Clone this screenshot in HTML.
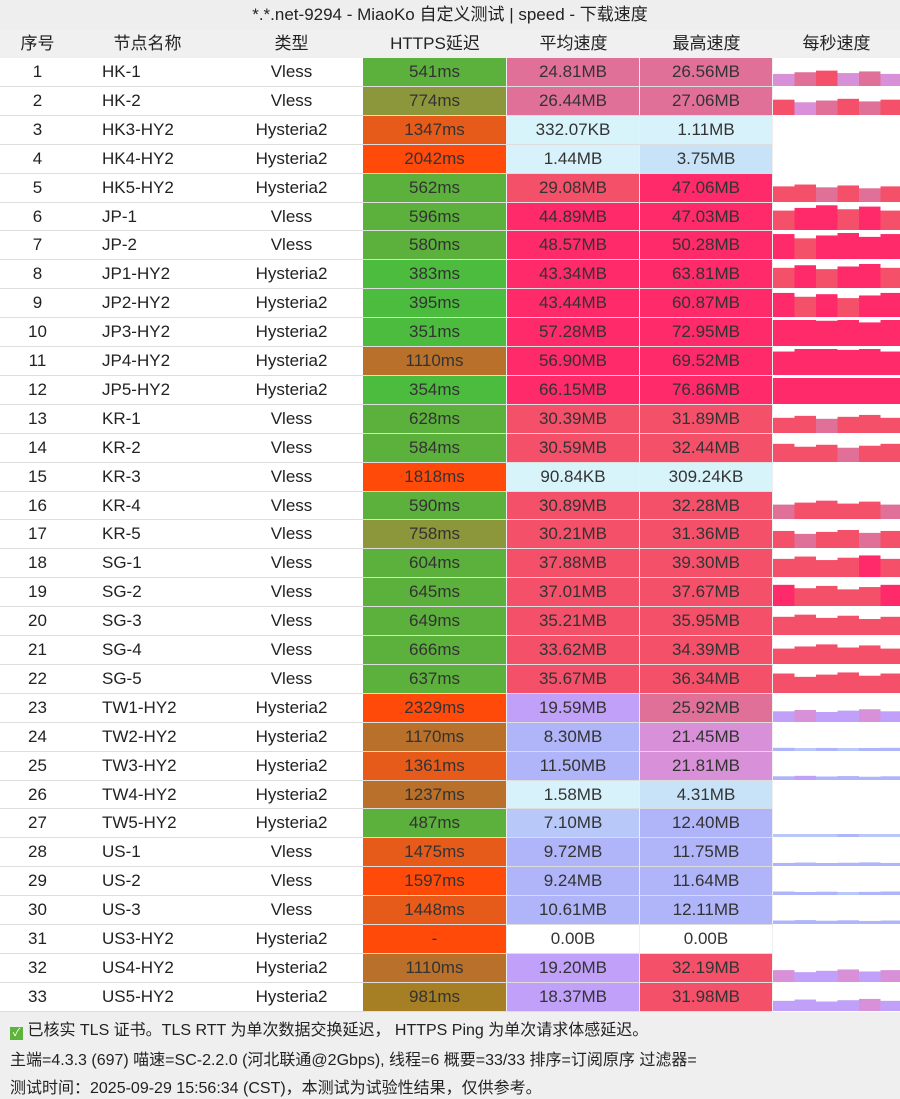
<!DOCTYPE html><html><head><meta charset="utf-8"><style>
body{margin:0;width:900px;height:1099px;background:#fff;font-family:"Liberation Sans","Noto Sans CJK SC",sans-serif;overflow:hidden;position:relative;color:#222}
.t{position:absolute;left:0;top:0;width:900px;height:29px;background:#eeeeee;text-align:center;line-height:29px;font-size:17px}
.h{position:absolute;top:29px;height:29px;line-height:29px;font-size:17px;text-align:center;background:#f0f0f0}
.c{position:absolute;line-height:28px;font-size:17px;text-align:center;border-bottom:1px solid #ddd;box-sizing:border-box}
.f{position:absolute;left:0;top:1012px;width:900px;height:87px;background:#efefef;font-size:16px}
.f div{position:absolute;left:10px}
</style></head><body>
<div class="t">*.*.net-9294 - MiaoKo 自定义测试 | speed - 下载速度</div>
<div id="g"></div>
<div class="f">
<div style="top:4px"><span style="display:inline-block;width:13px;height:13px;background:#5cb53a;color:#fff;font-size:11px;line-height:13px;text-align:center;vertical-align:-1px">✓</span> 已核实 TLS 证书。TLS RTT 为单次数据交换延迟， HTTPS Ping 为单次请求体感延迟。</div>
<div style="top:34px">主端=4.3.3 (697) 喵速=SC-2.2.0 (河北联通@2Gbps), 线程=6 概要=33/33 排序=订阅原序 过滤器=</div>
<div style="top:62px">测试时间：2025-09-29 15:56:34 (CST)，本测试为试验性结果，仅供参考。</div>
</div>
<script>
var cols=[[0,75],[75,145],[220,143],[363,144],[507,133],[640,133],[773,127]];
var hd=["序号","节点名称","类型","HTTPS延迟","平均速度","最高速度","每秒速度"];
var g=document.getElementById('g'),s='';
hd.forEach(function(h,i){s+='<div class="h" style="left:'+cols[i][0]+'px;width:'+cols[i][1]+'px">'+h+'</div>'});
var D=[["HK-1","Vless","541ms","24.81MB","26.56MB"],["HK-2","Vless","774ms","26.44MB","27.06MB"],["HK3-HY2","Hysteria2","1347ms","332.07KB","1.11MB"],["HK4-HY2","Hysteria2","2042ms","1.44MB","3.75MB"],["HK5-HY2","Hysteria2","562ms","29.08MB","47.06MB"],["JP-1","Vless","596ms","44.89MB","47.03MB"],["JP-2","Vless","580ms","48.57MB","50.28MB"],["JP1-HY2","Hysteria2","383ms","43.34MB","63.81MB"],["JP2-HY2","Hysteria2","395ms","43.44MB","60.87MB"],["JP3-HY2","Hysteria2","351ms","57.28MB","72.95MB"],["JP4-HY2","Hysteria2","1110ms","56.90MB","69.52MB"],["JP5-HY2","Hysteria2","354ms","66.15MB","76.86MB"],["KR-1","Vless","628ms","30.39MB","31.89MB"],["KR-2","Vless","584ms","30.59MB","32.44MB"],["KR-3","Vless","1818ms","90.84KB","309.24KB"],["KR-4","Vless","590ms","30.89MB","32.28MB"],["KR-5","Vless","758ms","30.21MB","31.36MB"],["SG-1","Vless","604ms","37.88MB","39.30MB"],["SG-2","Vless","645ms","37.01MB","37.67MB"],["SG-3","Vless","649ms","35.21MB","35.95MB"],["SG-4","Vless","666ms","33.62MB","34.39MB"],["SG-5","Vless","637ms","35.67MB","36.34MB"],["TW1-HY2","Hysteria2","2329ms","19.59MB","25.92MB"],["TW2-HY2","Hysteria2","1170ms","8.30MB","21.45MB"],["TW3-HY2","Hysteria2","1361ms","11.50MB","21.81MB"],["TW4-HY2","Hysteria2","1237ms","1.58MB","4.31MB"],["TW5-HY2","Hysteria2","487ms","7.10MB","12.40MB"],["US-1","Vless","1475ms","9.72MB","11.75MB"],["US-2","Vless","1597ms","9.24MB","11.64MB"],["US-3","Vless","1448ms","10.61MB","12.11MB"],["US3-HY2","Hysteria2","-","0.00B","0.00B"],["US4-HY2","Hysteria2","1110ms","19.20MB","32.19MB"],["US5-HY2","Hysteria2","981ms","18.37MB","31.98MB"]];
function lat(v){v=parseInt(v);if(isNaN(v))return'#ff4a0a';if(v<450)return'#4cbc3e';if(v<700)return'#5cb03c';if(v<800)return'#8c963a';if(v<1050)return'#a67e24';if(v<1300)return'#b8702a';if(v<1500)return'#e65a1a';return'#ff4a0a'}
function sp(t){var v=parseFloat(t);if(t.indexOf('KB')>0)v/=1024;if(t.indexOf('MB')<0&&t.indexOf('KB')<0)return'#fff';if(v<0.5)return'#d8f4fb';if(v<2)return'#d8f2fb';if(v<5)return'#c8e2f8';if(v<8)return'#b8c8f8';if(v<13)return'#b0b4f8';if(v<20)return'#c0a0f8';if(v<23)return'#d890d8';if(v<28)return'#e07098';if(v<42)return'#f5506a';return'#ff2a6a'}
function spv(t){var v=parseFloat(t);if(t.indexOf('KB')>0)v/=1024;return v}
D.forEach(function(r,i){var y=Math.round(58+i*28.9),hh0=Math.round(58+(i+1)*28.9)-y;
var cells=[[String(i+1),'#fff','center'],[r[0],'#fff','left'],[r[1],'#fff','center'],[r[2],lat(r[2]),'center'],[r[3],sp(r[3]),'center'],[r[4],sp(r[4]),'center']];
cells.forEach(function(c,j){s+='<div class="c" style="top:'+y+'px;height:'+hh0+'px;left:'+cols[j][0]+'px;width:'+cols[j][1]+'px;background:'+c[1]+';text-align:'+c[2]+(j==1?';padding-left:27px':'')+(j>=3?';border-right:1px solid #eee;color:#333':'')+'">'+c[0]+'</div>'});
var a=spv(r[3]);var sv='';
if(a>3){for(var k=0;k<6;k++){var v=a*(0.85+0.3*((k*7+i*3)%5)/4);var f=Math.pow(Math.min(1,v/55),0.8);if(a<15)f*=0.5;var hh=Math.min(26,Math.max(3,26*f));var col=sp(v.toFixed(2)+'MB');sv+='<rect x="'+(k*21.5)+'" y="'+(hh0-1-hh)+'" width="21.5" height="'+hh+'" fill="'+col+'"/>'}}
s+='<svg style="position:absolute;left:773px;top:'+y+'px" width="127" height="'+hh0+'">'+sv+'</svg>';
});
g.innerHTML=s;
</script>
</body></html>
